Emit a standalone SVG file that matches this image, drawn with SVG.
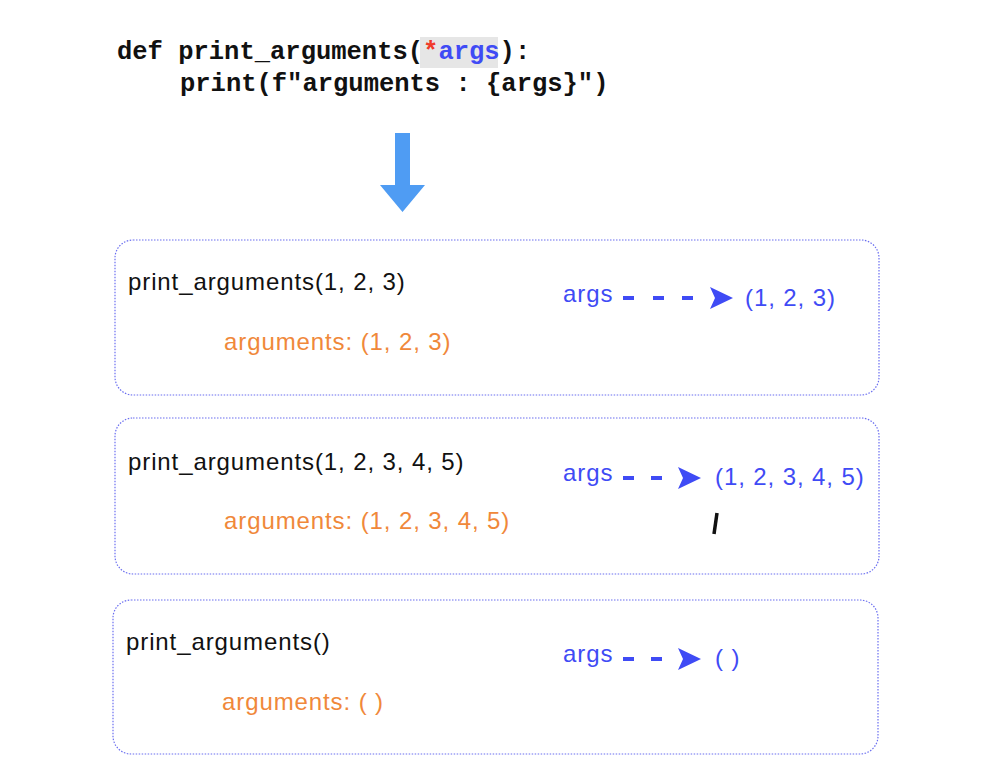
<svg xmlns="http://www.w3.org/2000/svg" width="986" height="780" viewBox="0 0 986 780">
<style>
.code{font-family:"Liberation Mono",monospace;font-weight:bold;font-size:25.5px;fill:#111}
.t{font-family:"Liberation Sans",Arial,sans-serif;font-size:24px;letter-spacing:0.9px}
.k{fill:#111}.o{fill:#f0883a}.b{fill:#3f4bf5}
.box{fill:none;stroke:#6a6ef0;stroke-width:1.2;stroke-dasharray:1.5 1.5}
.dash{stroke:#3f4bf5;stroke-width:4;fill:none}
</style>
<rect width="986" height="780" fill="#fff"/>
<g id="code">
<rect x="420" y="37" width="78" height="31" fill="#e6e6e6"/>
<text class="code" x="117" y="59" xml:space="preserve">def print_arguments(<tspan fill="#f03a2a">*</tspan><tspan fill="#3f4bf5">args</tspan>):</text>
<text class="code" x="180" y="91">print(f"arguments : {args}")</text>
</g>
<g id="bigarrow"><polygon points="395,133 410,133 410,185 425,185 402.5,212 380,185 395,185" fill="#4f9cf3"/></g>
<g id="box1">
<rect class="box" x="115" y="240" width="764" height="155" rx="18"/>
<text class="t k" x="128" y="290">print_arguments(1, 2, 3)</text>
<text class="t o" x="224" y="350">arguments: (1, 2, 3)</text>
<text class="t b" x="563" y="302">args</text>
<text class="t b" x="745" y="306">(1, 2, 3)</text>
</g>
<g id="box2">
<rect class="box" x="115" y="418" width="764" height="156" rx="18"/>
<text class="t k" x="128" y="470">print_arguments(1, 2, 3, 4, 5)</text>
<text class="t o" x="224" y="529">arguments: (1, 2, 3, 4, 5)</text>
<text class="t b" x="563" y="481">args</text>
<text class="t b" x="715" y="485">(1, 2, 3, 4, 5)</text>
<line x1="717" y1="513" x2="714" y2="534" stroke="#111" stroke-width="3.5"/>
</g>
<g id="box3">
<rect class="box" x="113" y="600" width="765" height="154" rx="18"/>
<text class="t k" x="126" y="650">print_arguments()</text>
<text class="t o" x="222" y="710">arguments: ( )</text>
<text class="t b" x="563" y="662">args</text>
<text class="t b" x="715" y="666">( )</text>
</g>
<g id="connectors">
<path class="dash" d="M623 298h11M653 298h11M682 298h11"/><polygon points="710,287 733,298 710,309 715,298" fill="#3f4bf5"/>
<path class="dash" d="M623 478h11M651 478h11"/><polygon points="678,467 701,478 678,489 683,478" fill="#3f4bf5"/>
<path class="dash" d="M623 659h11M651 659h11"/><polygon points="678,648 701,659 678,670 683,659" fill="#3f4bf5"/>
</g>
</svg>
